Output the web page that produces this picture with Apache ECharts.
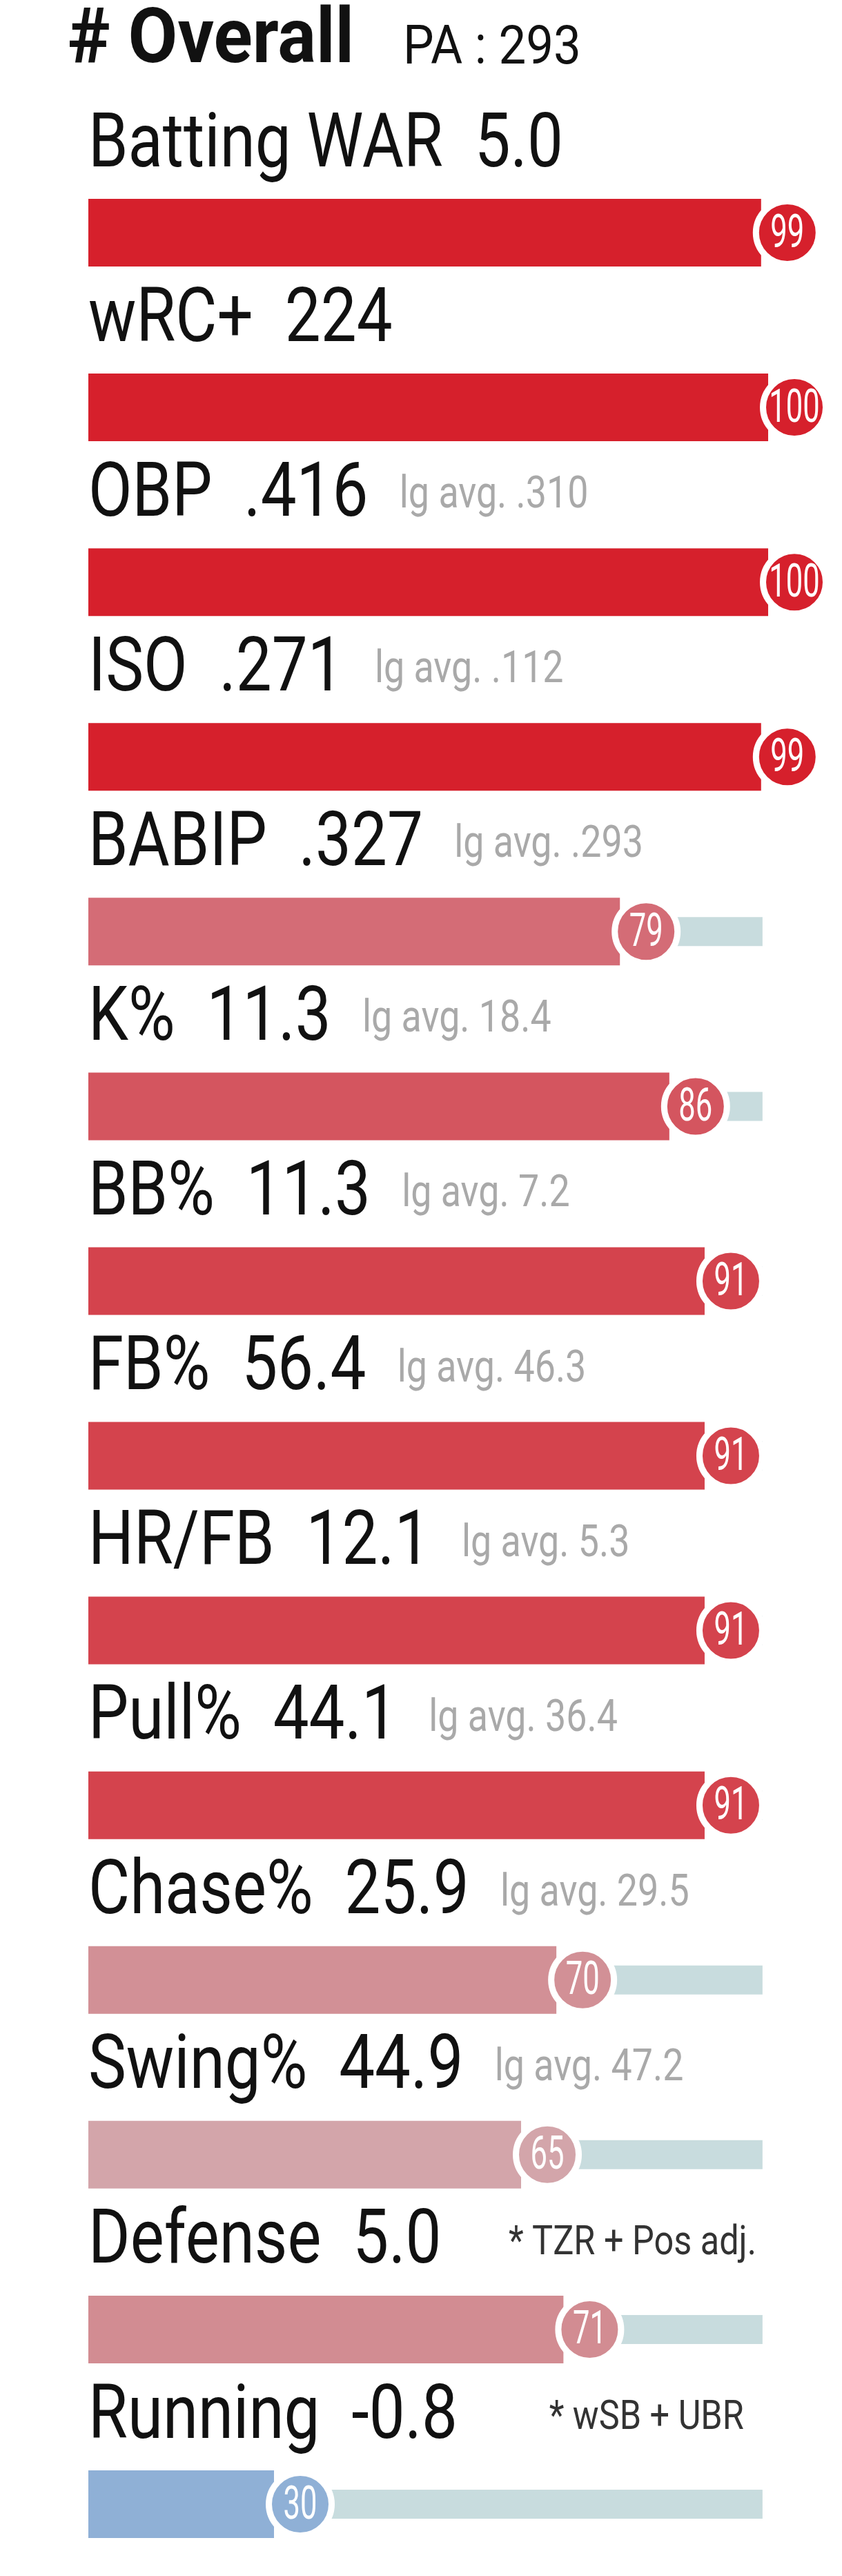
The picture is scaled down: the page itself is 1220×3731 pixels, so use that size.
<!DOCTYPE html>
<html><head><meta charset="utf-8">
<script src="https://cdn.jsdelivr.net/npm/echarts@6/dist/echarts.min.js"></script>
<style>html,body{margin:0;padding:0;background:#fff}#c{width:1220px;height:3731px}</style>
</head><body><div id="c"></div>
<script>
// ---- data ----
const titleText = '# Overall';
const paText = 'PA : 293';
const metricNames = ['Batting WAR','wRC+','OBP','ISO','BABIP','K%','BB%','FB%','HR/FB','Pull%','Chase%','Swing%','Defense','Running'];
const metricValues = ['5.0','224','.416','.271','.327','11.3','11.3','56.4','12.1','44.1','25.9','44.9','5.0','-0.8'];
const leagueAvg = [null,null,'.310','.112','.293','18.4','7.2','46.3','5.3','36.4','29.5','47.2',null,null];
const metricNotes = [null,null,null,null,null,null,null,null,null,null,null,null,'* TZR + Pos adj.','* wSB + UBR'];
const percentiles = [99,100,100,99,79,86,91,91,91,91,70,65,71,30];
const trackEnd = 99.2;

// ---- style ----
const FONT = 'Roboto';
const notePad = {'* TZR + Pos adj.':116, '* wSB + UBR':158};
const colorStops = [
  [0,[70,100,190]],[30,[143,176,214]],[50,[222,222,222]],[65,[211,165,170]],
  [70,[210,144,150]],[79,[212,108,118]],[86,[212,85,95]],[91,[212,67,77]],
  [99,[214,32,44]],[100,[214,32,44]]
];
function pctColor(p){
  for(let k=1;k<colorStops.length;k++){
    const a=colorStops[k-1], b=colorStops[k];
    if(p<=b[0]){
      const t=(p-a[0])/(b[0]-a[0]||1);
      const c=a[1].map((v,j)=>Math.round(v+(b[1][j]-v)*t));
      return 'rgb('+c.join(',')+')';
    }
  }
  return 'rgb(214,32,44)';
}
const rowIdx = metricNames.map((_,i)=>i);
const CIRCLE_OFF = 38;

const chart = echarts.init(document.getElementById('c'), null, {renderer:'canvas'});
chart.setOption({
  animation:false,
  backgroundColor:'#fff',
  grid:{left:128,right:4.7,top:337,bottom:104},
  xAxis:{type:'value',min:3.7,max:110,show:false},
  yAxis:[
    {type:'category',data:rowIdx,inverse:true,boundaryGap:false,show:false},
    {type:'category',data:rowIdx,inverse:true,boundaryGap:false,show:false}
  ],
  graphic:[
    {type:'text',x:98,y:62,scaleX:0.93,style:{text:titleText,fontSize:112,fontWeight:'bold',fontFamily:FONT,fill:'#111',verticalAlign:'middle'}},
    {type:'text',x:584,y:73,scaleX:0.92,style:{text:paText,fontSize:77,fontFamily:FONT,fill:'#111',verticalAlign:'middle'}}
  ],
  series:[
    {type:'bar',yAxisIndex:1,barWidth:42,clip:true,z:1,silent:true,
     itemStyle:{color:'#c8dcde'},data:percentiles.map(()=>trackEnd)},
    {type:'bar',yAxisIndex:0,barWidth:98,clip:true,z:2,silent:true,
     itemStyle:{color:(p)=>pctColor(p.value)},data:percentiles},
    {type:'scatter',yAxisIndex:0,z:3,symbol:'circle',symbolSize:91,symbolOffset:[CIRCLE_OFF,0],silent:true,
     itemStyle:{color:(p)=>pctColor(p.value[0]),borderColor:'#fff',borderWidth:9,opacity:1},
     data:percentiles.map((p,i)=>[p,i])},
    {type:'custom',yAxisIndex:0,z:4,silent:true,
     data:percentiles.map((p,i)=>[p,i]),
     renderItem:function(params,api){
       const c=api.coord([api.value(0),api.value(1)]);
       return {type:'text',x:c[0]+CIRCLE_OFF,y:c[1]+4,scaleX:0.66,
         style:{text:String(api.value(0)),fill:'#fff',fontSize:66,fontFamily:FONT,align:'center',verticalAlign:'middle'}};
     }},
    {type:'custom',yAxisIndex:0,z:4,silent:true,
     data:rowIdx.map(i=>[3.7,i]),
     renderItem:function(params,api){
       const i=api.value(1);
       const c=api.coord([api.value(0),i]);
       let t='{a|'+metricNames[i]+'  '+metricValues[i]+'}';
       const rich={
         a:{fontSize:110,fontFamily:FONT,fill:'#111',verticalAlign:'middle'},
         b:{fontSize:64,fontFamily:FONT,fill:'#a9a9a9',padding:[0,0,0,54],verticalAlign:'middle'}
       };
       if(leagueAvg[i]) t+='{b|lg avg. '+leagueAvg[i]+'}';
       if(metricNotes[i]){
         t+='{c|'+metricNotes[i]+'}';
         rich.c={fontSize:60,fontFamily:FONT,fill:'#333',padding:[0,0,0,notePad[metricNotes[i]]||120],verticalAlign:'middle'};
       }
       return {type:'text',x:params.coordSys.x,y:c[1]-124,scaleX:0.84,
         style:{text:t,align:'left',verticalAlign:'middle',fontFamily:FONT,rich:rich}};
     }}
  ]
});
</script>
</body></html>
